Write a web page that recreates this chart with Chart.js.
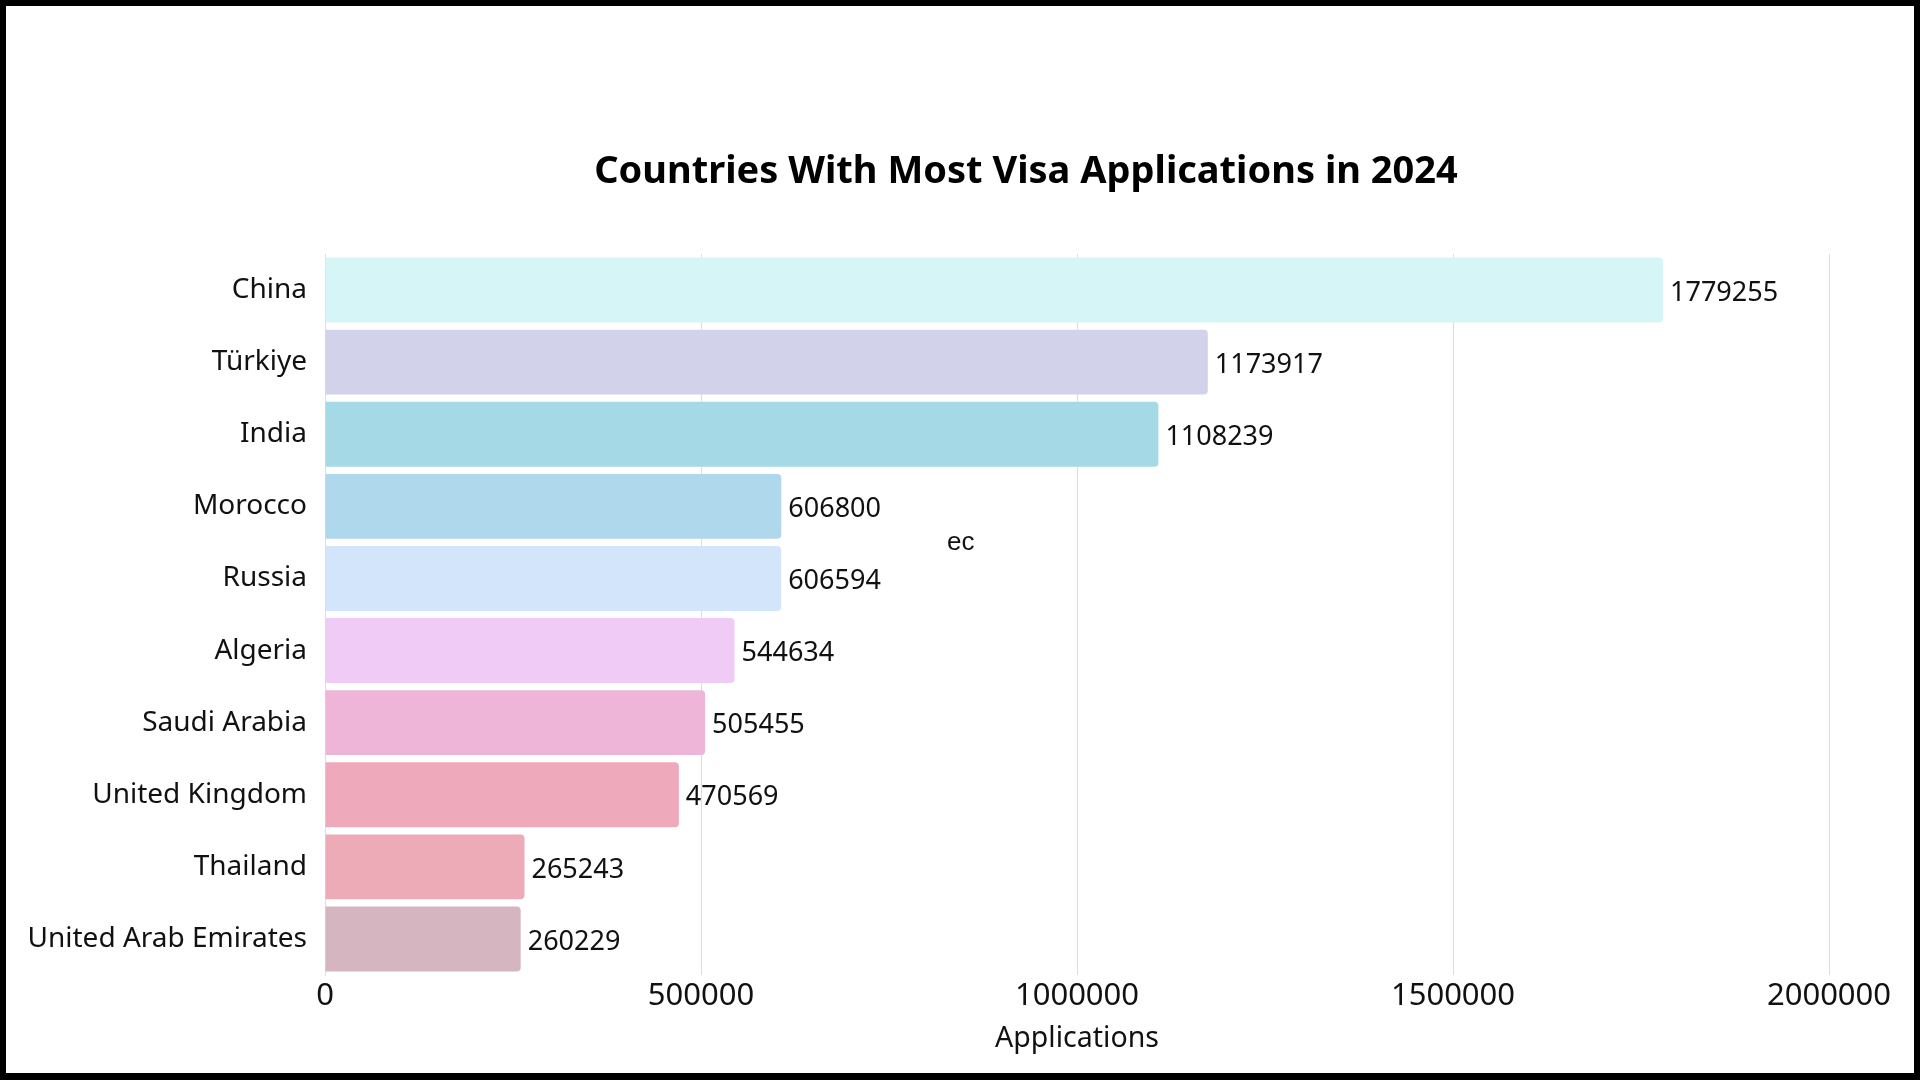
<!DOCTYPE html>
<html>
<head>
<meta charset="utf-8">
<script src="https://cdn.jsdelivr.net/npm/chart.js@4/dist/chart.umd.min.js"></script>
<style>
  html, body { margin: 0; padding: 0; background: #000; }
  #frame { position: absolute; left: 6px; top: 6px; width: 1908px; height: 1067px; background: #fff; overflow: hidden; }
  #title { position: absolute; left: 0; width: 2040px; top: 139px; text-align: center; margin: 0;
           font-family: "Noto Sans", sans-serif; font-weight: 700; font-size: 38px; line-height: 46px; color: #000; }
  #stray { position: absolute; left: 941px; top: 520px; font-family: "Liberation Sans", Arial, sans-serif; font-size: 26px; color: #111; }
  canvas { position: absolute; left: 0; top: 0; }
</style>
</head>
<body>
<div id="frame">
  <canvas id="c" width="1908" height="1067"></canvas>
  <h1 id="title">Countries With Most Visa Applications in 2024</h1>
  <div id="stray">ec</div>
</div>
<script>
const categories = ["China", "Türkiye", "India", "Morocco", "Russia", "Algeria", "Saudi Arabia", "United Kingdom", "Thailand", "United Arab Emirates"];
const applications = [1779255, 1173917, 1108239, 606800, 606594, 544634, 505455, 470569, 265243, 260229];
const barColors = ["#d5f5f6", "#d2d2ea", "#a5d9e6", "#b0d8ec", "#d3e5fb", "#efcbf6", "#eeb5d9", "#eeaabb", "#edabb8", "#d5b6c0"];
const xTicks = [0, 500000, 1000000, 1500000, 2000000];
const axisTitle = "Applications";

const valueLabels = {
  id: 'valueLabels',
  afterDatasetsDraw(chart) {
    const ctx = chart.ctx;
    const meta = chart.getDatasetMeta(0);
    ctx.save();
    ctx.font = '27px "Noto Sans", sans-serif';
    ctx.fillStyle = '#111';
    ctx.textAlign = 'left';
    ctx.textBaseline = 'middle';
    meta.data.forEach((bar, i) => {
      ctx.fillText(String(chart.data.datasets[0].data[i]), bar.x + 7, bar.y + 3);
    });
    ctx.restore();
  }
};

new Chart(document.getElementById('c'), {
  type: 'bar',
  data: {
    labels: categories,
    datasets: [{
      data: applications,
      backgroundColor: barColors,
      borderWidth: 0,
      borderRadius: 4,
      borderSkipped: 'start',
      barPercentage: 0.9,
      categoryPercentage: 1.0
    }]
  },
  options: {
    indexAxis: 'y',
    responsive: false,
    animation: false,
    layout: { padding: { top: 248, right: 85, left: 0, bottom: 0 } },
    plugins: { legend: { display: false }, title: { display: false }, tooltip: { enabled: false } },
    scales: {
      x: {
        type: 'linear',
        min: 0, max: 2000000,
        afterBuildTicks(axis) { axis.ticks = xTicks.map(v => ({ value: v })); },
        afterFit(axis) { axis.height = 98; },
        ticks: {
          padding: 3,
          color: '#111',
          font: { family: '"Noto Sans", sans-serif', size: 31 },
          callback: (v) => String(v)
        },
        grid: { color: '#dcdce9', lineWidth: 1, drawTicks: false },
        border: { display: false },
        title: {
          display: true,
          text: axisTitle,
          color: '#111',
          font: { family: '"Noto Sans", sans-serif', size: 28.5 },
          padding: { top: 4, bottom: 17 }
        }
      },
      y: {
        afterFit(axis) { axis.width = 319; },
        ticks: {
          padding: 18,
          color: '#111',
          font: { family: '"Noto Sans", sans-serif', size: 28 }
        },
        grid: { display: false, drawTicks: false },
        border: { display: true, color: '#dcdce9', width: 1 }
      }
    }
  },
  plugins: [valueLabels]
});
</script>
</body>
</html>
